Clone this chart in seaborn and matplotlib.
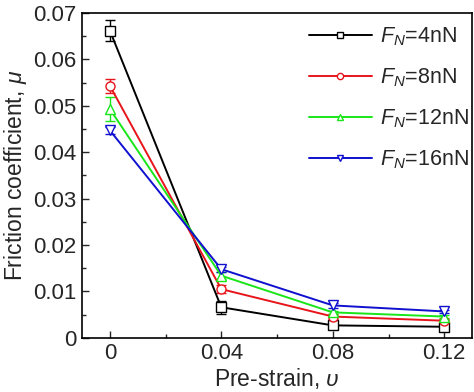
import numpy as np
import pandas as pd
import matplotlib
matplotlib.use("Agg")
import matplotlib.pyplot as plt
import seaborn as sns

strain = [0.0, 0.04, 0.08, 0.12]
labels = [r"$F_N$=4nN", r"$F_N$=8nN", r"$F_N$=12nN", r"$F_N$=16nN"]
mu_4 = [0.0662, 0.0066, 0.0027, 0.0024]
mu_8 = [0.0543, 0.0105, 0.0046, 0.0037]
mu_12 = [0.0493, 0.0134, 0.0055, 0.0046]
mu_16 = [0.0447, 0.0148, 0.0070, 0.0057]
err_4 = [0.0022, 0.0014, 0.0006, 0.0004]
err_8 = [0.0015, 0.0008, 0.0005, 0.0004]
err_12 = [0.0025, 0.0007, 0.0004, 0.0003]
err_16 = [0.0008, 0.0005, 0.0005, 0.0004]

colors = ["#000000", "#e8141c", "#19e619", "#1010d0"]
markers = ["s", "o", "^", "v"]

rows = []
for lab, ys, es in zip(labels, [mu_4, mu_8, mu_12, mu_16], [err_4, err_8, err_12, err_16]):
    for x, y, e in zip(strain, ys, es):
        rows.append({"strain": x, "mu": y, "err": e, "load": lab})
df = pd.DataFrame(rows)

sns.set_style("ticks")
plt.rcParams["font.family"] = ["Liberation Sans", "DejaVu Sans"]
plt.rcParams["mathtext.fontset"] = "custom"
plt.rcParams["mathtext.rm"] = "Liberation Sans"
plt.rcParams["mathtext.it"] = "Liberation Sans:italic"

fig = plt.figure(figsize=(4.74, 3.92), dpi=100)
ax = fig.add_axes([0.173, 0.138, 0.823, 0.829])

sns.lineplot(data=df, x="strain", y="mu", hue="load", style="load",
             palette=colors, markers=markers, dashes=False, ax=ax,
             markersize=6.5, markerfacecolor="white", markeredgewidth=1.0,
             linewidth=1.4, legend=False, zorder=3)
for ln in list(ax.lines):
    ln.set_markeredgecolor(ln.get_color())
    ln.set_markerfacecolor("white")

for (lab, g), c in zip(df.groupby("load", sort=False), colors):
    ax.errorbar(g["strain"], g["mu"], yerr=g["err"], fmt="none",
                ecolor=c, elinewidth=1.0, capsize=3.5, capthick=1.0, zorder=2)

handles = []
for lab, c, m in zip(labels, colors, markers):
    h, = ax.plot([], [], color=c, marker=m, markerfacecolor="white",
                 markeredgecolor=c, markersize=4.5, linewidth=1.4,
                 markeredgewidth=1.0, label=lab)
    handles.append(h)
ax.legend(handles=handles, loc="upper right", frameon=False, fontsize=15.5,
          handlelength=2.9, labelspacing=0.85, handletextpad=0.4,
          bbox_to_anchor=(1.025, 1.0), borderaxespad=0.2)

ax.set_xlim(-0.01, 0.13)
ax.set_ylim(0, 0.07)
ax.set_xticks(strain)
ax.set_xticklabels(["0", "0.04", "0.08", "0.12"])
ax.set_yticks([0, 0.01, 0.02, 0.03, 0.04, 0.05, 0.06, 0.07])
ax.set_yticklabels(["0", "0.01", "0.02", "0.03", "0.04", "0.05", "0.06", "0.07"])
ax.set_xticks([0.02, 0.06, 0.10], minor=True)
ax.set_yticks(np.arange(0.005, 0.07, 0.01), minor=True)
ax.tick_params(which="major", direction="in", length=5, width=1.0, labelsize=16,
               top=False, right=False, pad=4)
ax.tick_params(which="minor", direction="in", length=3, width=1.0,
               top=False, right=False)
for s in ax.spines.values():
    s.set_linewidth(1.2)
    s.set_color("black")

ax.set_xlabel(r"Pre-strain, $\upsilon$", fontsize=16.5, labelpad=1)
ax.set_ylabel(r"Friction coefficient, $\mu$", fontsize=16.5, labelpad=3)

fig.savefig("out.png", dpi=100)
